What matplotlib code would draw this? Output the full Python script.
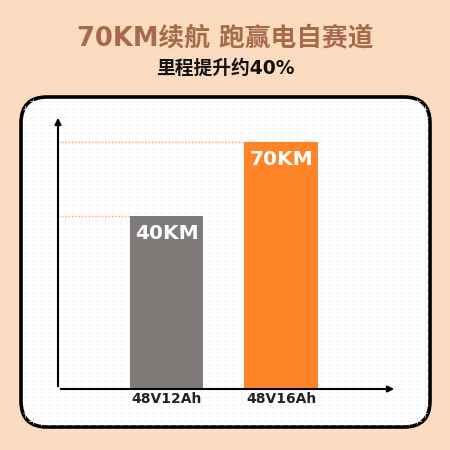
import matplotlib.pyplot as plt
import numpy as np
from matplotlib.patches import FancyBboxPatch

plt.rcParams['font.family'] = ['Noto Sans CJK SC', 'DejaVu Sans']
LATIN_FIRST = ['DejaVu Sans', 'Noto Sans CJK SC']

categories = ['48V12Ah', '48V16Ah']
ranges_km = [40, 70]
bar_labels = ['40KM', '70KM']
bar_colors = ['#7f7b79', '#ff8427']
title = '70KM续航 跑赢电自赛道'
subtitle = '里程提升约40%'

W = H = 450
fig = plt.figure(figsize=(4.5, 4.5), dpi=100)
fig.patch.set_facecolor('#fcdcc0')

# background layer in pixel coords (y down)
bg = fig.add_axes([0, 0, 1, 1])
bg.set_xlim(0, W)
bg.set_ylim(H, 0)
bg.axis('off')
gx, gy = np.meshgrid(np.arange(4, W, 9), np.arange(4, H, 9))
bg.scatter(gx.ravel(), gy.ravel(), s=2.5, color='#fad3b2', lw=0, zorder=0)

panel = FancyBboxPatch((21, 97), 409, 330, boxstyle='round,pad=0,rounding_size=26',
                       facecolor='white', edgecolor='black', lw=2.6, zorder=1)
bg.add_patch(panel)
# fine grid inside the panel
for x in np.arange(25, 430, 8):
    bg.plot([x, x], [99, 425], color='#f1f2f7', lw=0.5, zorder=1.5, clip_path=panel)
for y in np.arange(101, 427, 8):
    bg.plot([23, 428], [y, y], color='#f1f2f7', lw=0.5, zorder=1.5, clip_path=panel)

bg.text(225, 38, title, ha='center', va='center', fontsize=18.5, fontweight='bold',
        color='#a76a4c', family=LATIN_FIRST)
bg.text(225, 68, subtitle, ha='center', va='center', fontsize=13.5, fontweight='bold',
        color='#111111', family=LATIN_FIRST)

# chart
ax = fig.add_axes([58 / W, 61 / H, 339 / W, 274 / H])
ax.patch.set_alpha(0)
ax.set_xlim(-0.948, 2.013)
ymin, ymax = -30, 81
ax.set_ylim(ymin, ymax)
x = np.arange(len(categories))
bw = 0.64
heights = [v - ymin for v in ranges_km]
ax.bar(x, heights, bottom=ymin, width=bw, color=bar_colors, zorder=3)
for xi, v, lab in zip(x, ranges_km, bar_labels):
    ax.hlines(v, -0.948, xi - bw / 2, colors='#fbb27a', linestyles=(0, (1.2, 1.2)), lw=1, zorder=2)
    ax.text(xi, v - 7, lab, ha='center', va='center', color='white',
            fontsize=14.5, fontweight='bold', family=LATIN_FIRST, zorder=4)

for s in ax.spines.values():
    s.set_visible(False)
ax.annotate('', xy=(2.013, ymin), xytext=(-0.948, ymin),
            arrowprops=dict(arrowstyle='-|>', color='black', lw=1.5, mutation_scale=9), annotation_clip=False)
ax.annotate('', xy=(-0.948, ymax), xytext=(-0.948, ymin),
            arrowprops=dict(arrowstyle='-|>', color='black', lw=1.5, mutation_scale=9), annotation_clip=False)
ax.set_yticks([])
ax.set_xticks(x)
ax.set_xticklabels(categories, fontsize=10, fontweight='bold', color='#222222', family=LATIN_FIRST)
ax.tick_params(axis='x', length=0, pad=2)

fig.savefig('out.png', dpi=100, facecolor=fig.get_facecolor())
